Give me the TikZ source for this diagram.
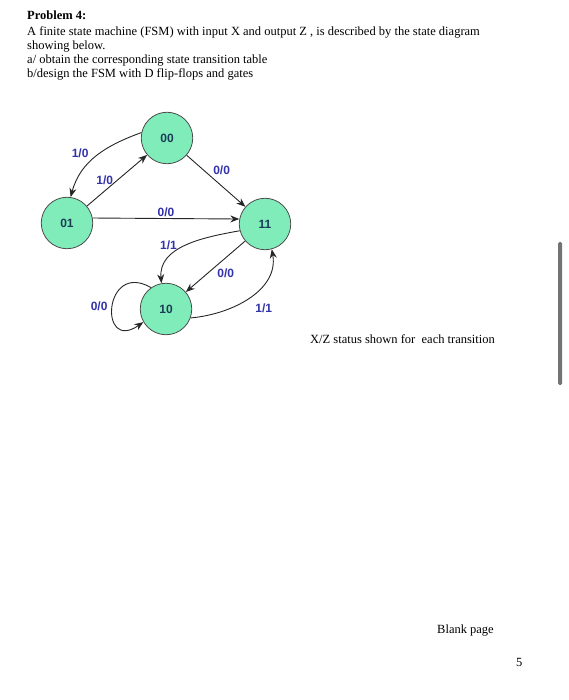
\documentclass[tikz,border=0pt]{standalone}
\usepackage{fontspec}
\setmainfont{Liberation Serif}
\newfontfamily\diagfont{Liberation Sans}
\usetikzlibrary{arrows.meta,positioning,calc}
\definecolor{statefill}{RGB}{128,236,186}
\definecolor{statetext}{RGB}{26,60,88}
\definecolor{lblblue}{RGB}{50,50,170}
\begin{document}
\begin{tikzpicture}[x=1pt,y=-1pt,>={Stealth[length=9pt,width=7pt]},
  state/.style={circle,draw=black!70,line width=.8pt,fill=statefill,minimum size=51.5pt,inner sep=0pt,font=\diagfont\fontsize{12}{14}\selectfont\bfseries,text=statetext},
  lbl/.style={font=\diagfont\fontsize{12}{14}\selectfont\bfseries,text=lblblue,inner sep=1.5pt},
  edge/.style={draw=black!85,line width=.9pt,->},
  txt/.style={anchor=base west,inner sep=0pt,font=\fontsize{12.5}{14}\selectfont}]
\useasboundingbox (0,0) rectangle (568,700);
% header text
\node[txt,font=\fontsize{12.5}{14}\selectfont\bfseries] (title) at (27,20){Problem 4:};
\node[txt] (line1) at (27,36){A finite state machine (FSM) with input X and output Z , is described by the state diagram};
\node[txt] (line2) at (27,50){showing below.};
\node[txt] (line3) at (27,64){a/ obtain the corresponding state transition table};
\node[txt] (line4) at (27,78){b/design the FSM with D flip-flops and gates};
% states
\node[state] (s00) at (167,138){00};
\node[state] (s01) at (67,223){01};
\node[state] (s11) at (265,224){11};
\node[state] (s10) at (166,309){10};
% transitions (y axis points down, so polar angles are mirrored)
\draw[edge] (s00.168) to[out=200,in=75] node[lbl,pos=.46,left=9pt]{1/0} (s01.82);
\draw[edge] (s01) -- (s00) node[lbl,midway,left=2pt]{1/0};
\draw[edge] (s00) -- (s11) node[lbl,pos=.42,above right]{0/0};
\draw[edge] (s01.11) -- (s11.169) node[lbl,midway,above]{0/0};
\draw[edge] (s11.195) to[out=190,in=95] node[lbl,pos=.5,left=7pt]{1/1} (s10.100);
\draw[edge] (s11) -- (s10) node[lbl,midway,below right]{0/0};
\draw[edge] (s10.-20) to[out=5,in=-80] node[lbl,pos=.45,below right=1pt and 9pt]{1/1} (s11.-75);
\draw[edge] (s10.125) .. controls +(210:55) and +(145:55) .. node[lbl,pos=.5,left=3pt]{0/0} (s10.210);
% notes
\node[txt] (note) at (310,343){X/Z status shown for\ \ each transition};
\node[txt] (blank) at (437,633){Blank page};
\node[txt] (pageno) at (516,666){5};
% scroll bar
\fill[black!55,rounded corners=1.5pt] (558,242) rectangle (562,385);
\end{tikzpicture}
\end{document}
